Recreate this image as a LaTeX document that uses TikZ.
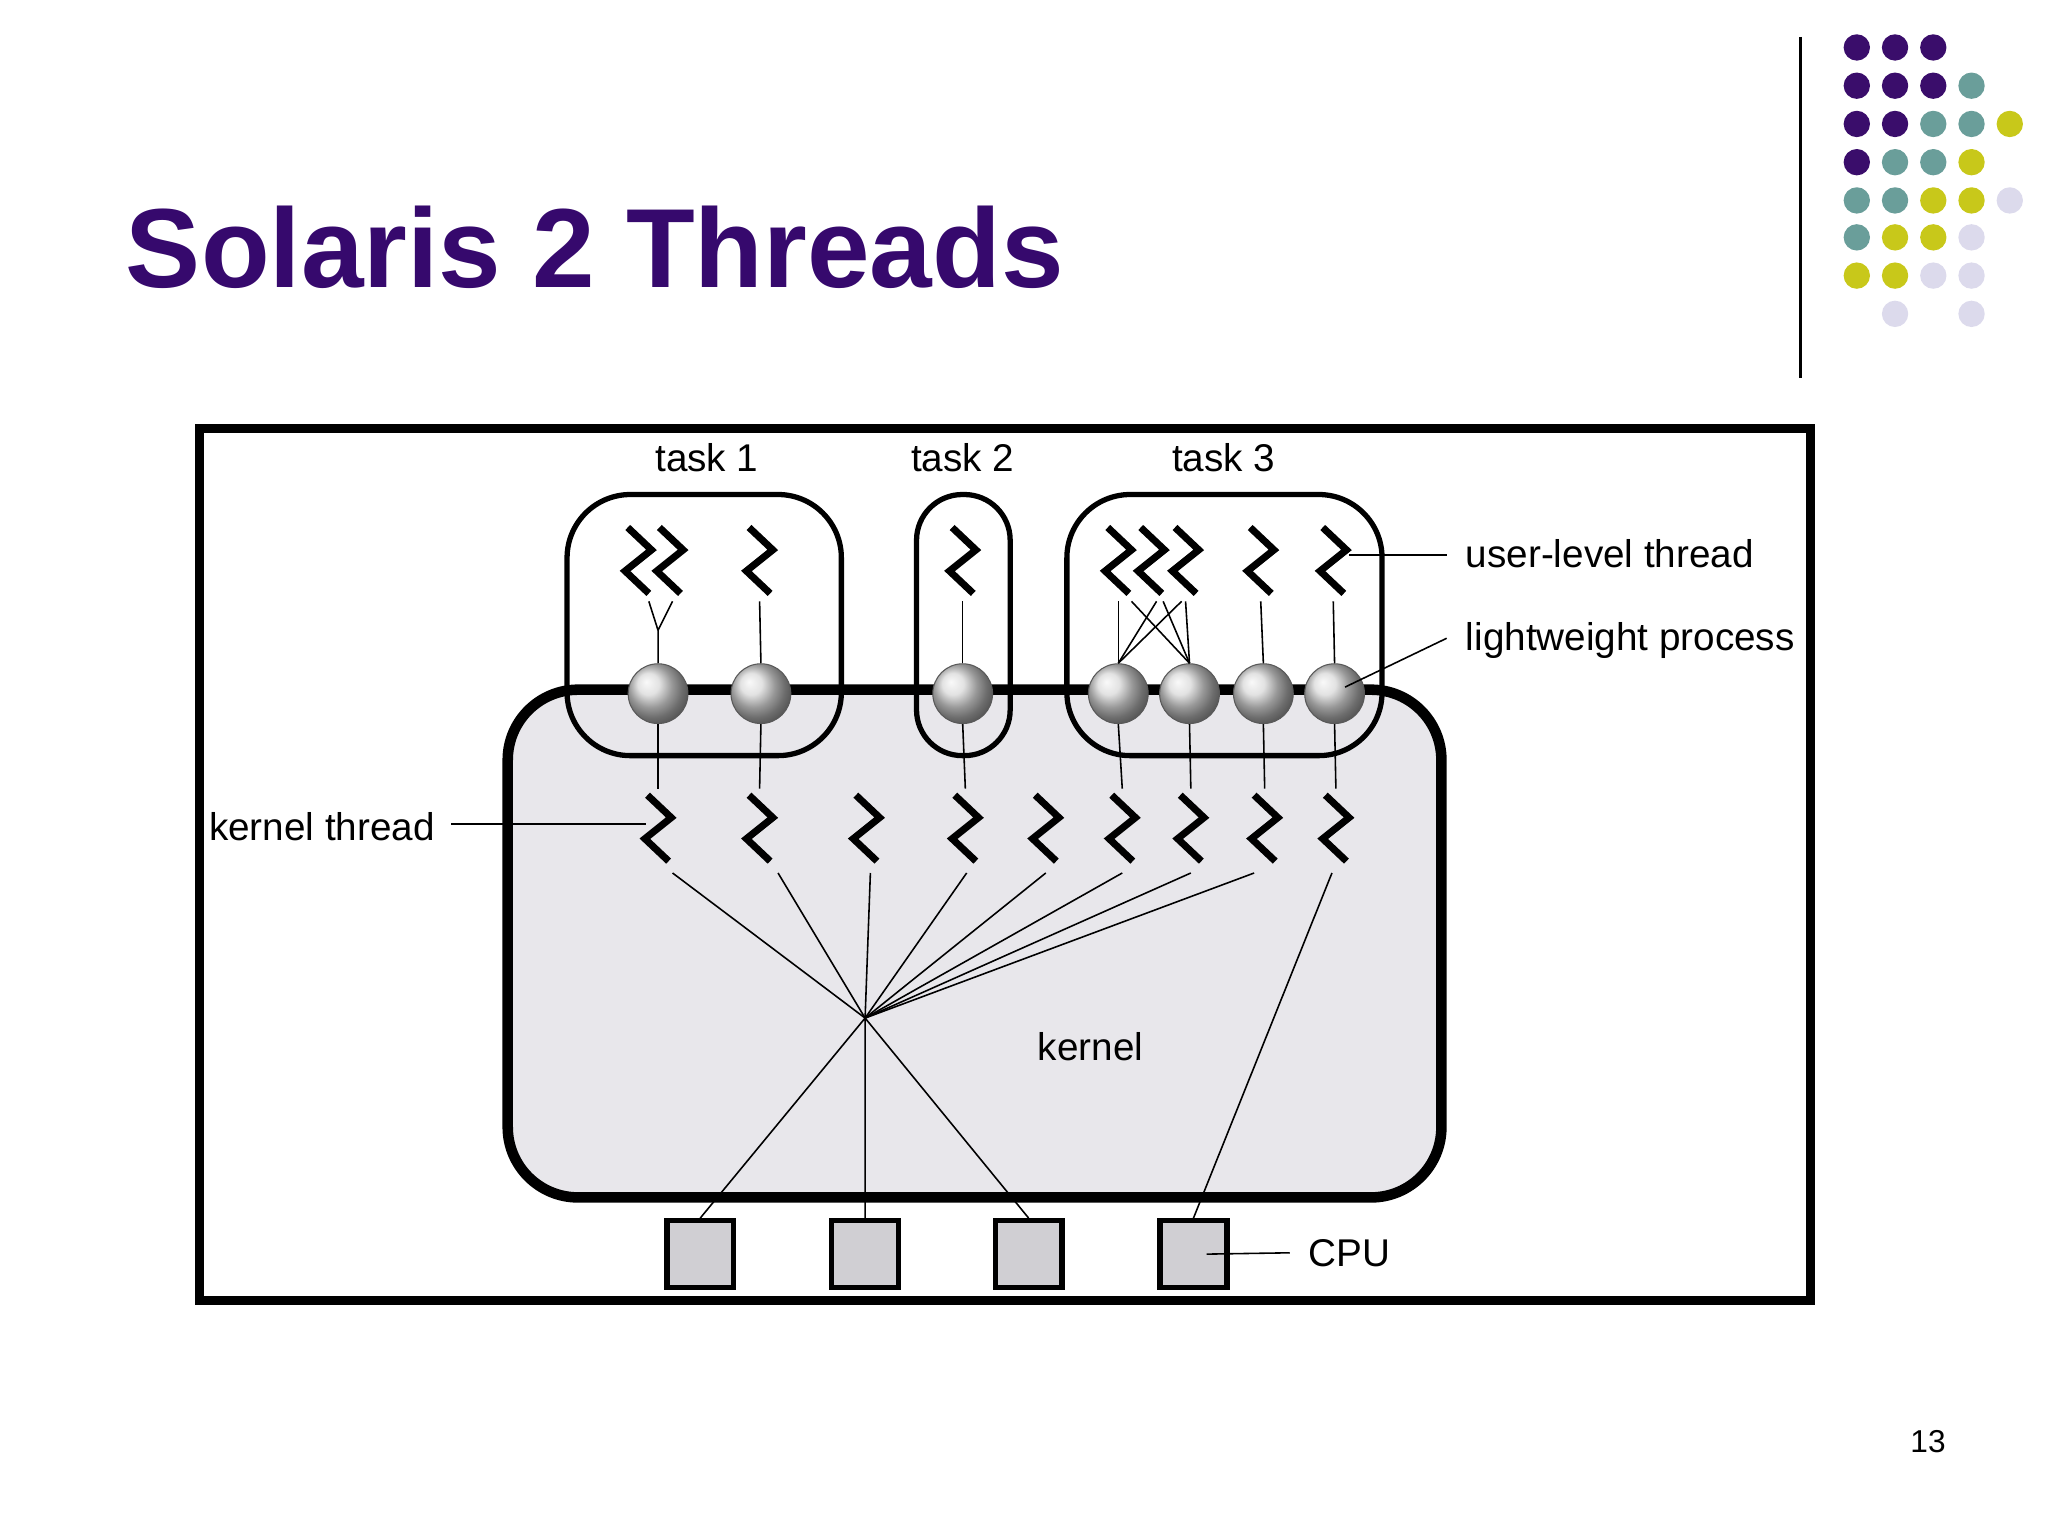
\documentclass[tikz,border=0pt]{standalone}
\usepackage{fontspec}
\setmainfont{Liberation Sans}
\usetikzlibrary{calc}
\definecolor{ttl}{HTML}{36096D}
\definecolor{dP}{HTML}{3A0D6B}
\definecolor{dT}{HTML}{6A9E9A}
\definecolor{dY}{HTML}{C8C81A}
\definecolor{dL}{HTML}{DCDAEC}
\definecolor{kfill}{HTML}{E8E7EB}
\definecolor{cfill}{HTML}{D0CFD3}
\begin{document}
\begin{tikzpicture}[x=0.013188cm,y=-0.013188cm,
  thr/.pic={\draw[line width=2pt,miter limit=10] (-8,-25)--(10,-8)--(-10,8)--(8,25);},
  sph/.style={circle,minimum size=17pt,inner sep=0pt,draw=gray!70!black,line width=0.3pt,shading=ball,ball color=white!70!gray},
  thin/.style={line width=0.45pt},
  lbl/.style={font=\fontsize{11}{13}\selectfont,inner sep=0pt},
  cpu/.style={draw,line width=1.5pt,fill=cfill,minimum width=19pt,minimum height=19pt,inner sep=0pt},
  task/.style={line width=1.5pt},
  dot/.style={circle,inner sep=0pt,minimum size=7.5pt}]
\useasboundingbox (0,0) rectangle (1553,1164.7);
% title
\node[anchor=base west,font=\bfseries\fontsize{32}{38}\selectfont,text=ttl,inner sep=0pt] (title) at (95,218) {Solaris 2 Threads};
\draw[line width=0.8pt] (1365,28) -- (1365,287);
% dots
\foreach \c [count=\i] in {dP,dP,dP} \node[dot,fill=\c] at ({1379+29*\i},36) {};
\foreach \c [count=\i] in {dP,dP,dP,dT} \node[dot,fill=\c] at ({1379+29*\i},65) {};
\foreach \c [count=\i] in {dP,dP,dT,dT,dY} \node[dot,fill=\c] at ({1379+29*\i},94) {};
\foreach \c [count=\i] in {dP,dT,dT,dY} \node[dot,fill=\c] at ({1379+29*\i},123) {};
\foreach \c [count=\i] in {dT,dT,dY,dY,dL} \node[dot,fill=\c] at ({1379+29*\i},152) {};
\foreach \c [count=\i] in {dT,dY,dY,dL} \node[dot,fill=\c] at ({1379+29*\i},180) {};
\foreach \c [count=\i] in {dY,dY,dL,dL} \node[dot,fill=\c] at ({1379+29*\i},209) {};
\node[dot,fill=dL] at (1437,238) {};
\node[dot,fill=dL] at (1495,238) {};
\node[font=\fontsize{9}{11}\selectfont] (pg) at (1462,1093) {13};
% frame
\draw[line width=2.6pt] (151,325) rectangle (1373,986);
% kernel
\draw[line width=3pt,fill=kfill,rounded corners=20pt] (385,523) rectangle (1093,908);
\node[lbl] (kern) at (827,794) {kernel};
% tasks
\draw[task,rounded corners=18pt] (430,375) rectangle (638,573);
\draw[task,rounded corners=13pt] (695,375) rectangle (766,573);
\draw[task,rounded corners=18pt] (809,375) rectangle (1048,573);
\node[lbl] (t1) at (536,347) {task 1};
\node[lbl] (t2) at (730,347) {task 2};
\node[lbl] (t3) at (928,347) {task 3};
% user threads
\foreach \n/\x in {u1/484,u2/508,u3/576,u4/730,u5/848,u6/873,u7/899,u8/956,u9/1011}
  {\pic at (\x,425) {thr}; \coordinate (\n) at (\x,456); \coordinate (\n r) at (\x+12,421);}
% spheres
\foreach \n/\x in {s1/499,s2/577,s3/730,s4/848,s5/902,s6/958,s7/1012}
  \node[sph] (\n) at (\x,526) {};
% kernel threads
\foreach \n/\x in {k1/499,k2/576,k3/657,k4/732,k5/793,k6/851,k7/903,k8/959,k9/1013}
  {\pic at (\x,628) {thr}; \coordinate (\n t) at (\x,598); \coordinate (\n b) at (\x,662);}
% user -> lwp
\coordinate (y1) at (499,478);
\draw[thin] (492,456) -- (y1) (510,456) -- (y1) (y1) -- (s1.north);
\draw[thin] (u3) -- (s2.north);
\draw[thin] (u4) -- (s3.north);
\draw[thin] (u5) -- (s4.north);
\draw[thin] (899,456) -- (s5.north);
\draw[thin] (858,456) -- (s5.north);
\draw[thin] (877,456) -- (s4.north);
\draw[thin] (882,456) -- (s5.north);
\draw[thin] (896,456) -- (s4.north);
\draw[thin] (u8) -- (s6.north);
\draw[thin] (u9) -- (s7.north);
% lwp -> kernel threads
\foreach \s/\k in {s1/k1,s2/k2,s3/k4,s4/k6,s5/k7,s6/k8,s7/k9}
  \draw[thin] (\s.south) -- (\k t);
% hub
\coordinate (hub) at (656,772);
\foreach \x in {510,590,660,733,793,851,903,951} \draw[thin] (\x,662) -- (hub);
% CPUs
\foreach \n/\x in {c1/531,c2/656,c3/780,c4/905} \node[cpu] (\n) at (\x,951) {};
\draw[thin] (hub) -- (c1.north) (hub) -- (c2.north) (hub) -- (c3.north);
\draw[thin] (1010,662) -- (c4.north);
% labels
\node[lbl,anchor=west] (ult) at (1111,420) {user-level thread};
\coordinate (ulte) at (1097,421);
\draw[thin] (u9r) -- (ulte);
\node[lbl,anchor=west] (lwp) at (1111,486) {lightweight process};
\coordinate (lwpe) at (1097,484);
\draw[thin] (1020,521) -- (lwpe);
\node[lbl,anchor=west] (kt) at (158,627) {kernel thread};
\coordinate (kte) at (490,625);
\draw[thin] (342,625) -- (kte);
\node[lbl,anchor=west] (cpul) at (992,950) {CPU};
\coordinate (cpue) at (978,950);
\draw[thin] (c4.center) ++(10,0) -- (cpue);
\end{tikzpicture}
\end{document}
